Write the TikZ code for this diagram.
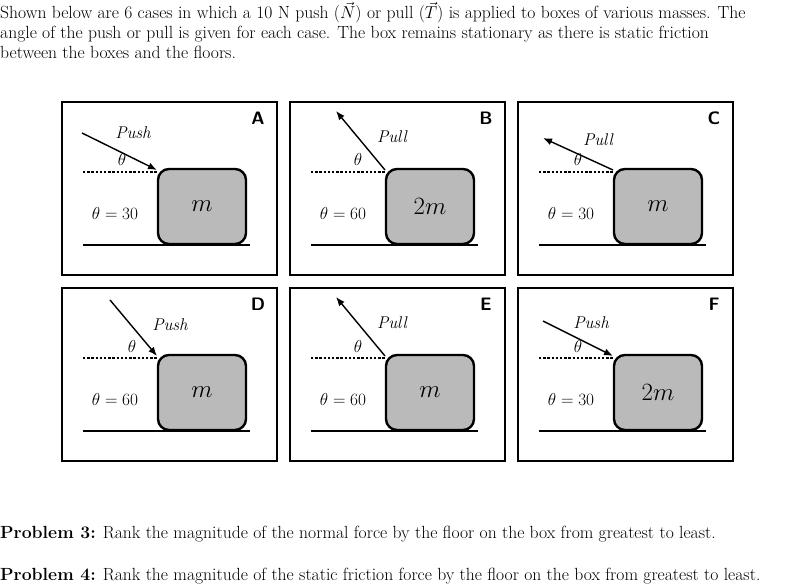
\documentclass[tikz,border=0pt]{standalone}
\usepackage{amsmath}
\usetikzlibrary{arrows.meta}
\begin{document}
\newcommand\casepanel[9]{% #1 x, #2 y, #3 letter, #4 unused, #5 #6 free end, #7 push(1)/pull(0), #8 angle, #9 mass
\begin{scope}[shift={(#1,#2)}]
\draw[frame] (0,0) rectangle (215,173);
\node[letter] (L#3) at (196,16) {#3};
\node[box] (B#3) at (140,104.5) {$#9$};
\coordinate (C#3) at (95,68);
\coordinate (S#3) at (#5,#6);
\draw[floor] (21,143) -- (188,143);
\draw[dots] (21,70) -- (95,70);
\ifnum#7=1 \draw[force] (S#3) -- (C#3);\else \draw[force] (C#3) -- (S#3);\fi
\node[lab] (T#3) at (53,111) {$\theta = #8$};
\end{scope}}
\begin{tikzpicture}[x=1pt,y=-1pt,
 frame/.style={line width=2.6pt},
 letter/.style={font=\sffamily\bfseries\fontsize{18}{18}\selectfont},
 box/.style={draw,line width=2.4pt,fill=black!27,rounded corners=11pt,minimum width=88pt,minimum height=75pt,inner sep=0pt,font=\fontsize{28}{28}\selectfont},
 floor/.style={line width=2.4pt},
 dots/.style={line width=2.6pt,dash pattern=on 2.4pt off 1.8pt},
 force/.style={line width=1.4pt,-{Latex[length=9pt,width=7pt]}},
 lab/.style={font=\fontsize{18}{18}\selectfont},
 it/.style={font=\fontsize{17}{17}\selectfont\itshape},
 txt/.style={anchor=west,inner sep=0pt,font=\fontsize{17.6}{20}\selectfont}]
\useasboundingbox (0,0) rectangle (806,586);
\node[txt,anchor=north west,align=left] (intro) at (0,2) {Shown below are 6 cases in which a 10 N push ($\vec N$) or pull ($\vec T$) is applied to boxes of various masses. The\\angle of the push or pull is given for each case. The box remains stationary as there is static friction\\between the boxes and the floors.};
\casepanel{62}{102}{A}{}{20}{31}{1}{30}{m}
\casepanel{290}{102}{B}{}{46}{9}{0}{60}{2m}
\casepanel{518}{102}{C}{}{25}{36}{0}{30}{m}
\casepanel{62}{288}{D}{}{48}{12}{1}{60}{m}
\casepanel{290}{288}{E}{}{46}{9}{0}{60}{m}
\casepanel{518}{288}{F}{}{25}{33}{1}{30}{2m}
\node[it] (pA) at (133,133) {Push}; \node[lab] (qA) at (122,159) {$\theta$};
\node[it] (pB) at (392,137) {Pull}; \node[lab] (qB) at (358,159) {$\theta$};
\node[it] (pC) at (598,140) {Pull}; \node[lab] (qC) at (578,159) {$\theta$};
\node[it] (pD) at (170,325) {Push}; \node[lab] (qD) at (132,346) {$\theta$};
\node[it] (pE) at (392,323) {Pull}; \node[lab] (qE) at (358,346) {$\theta$};
\node[it] (pF) at (591,323) {Push}; \node[lab] (qF) at (578,346) {$\theta$};
\node[txt] (p3) at (0,534) {\textbf{Problem 3:} Rank the magnitude of the normal force by the floor on the box from greatest to least.};
\node[txt] (p4) at (0,576) {\textbf{Problem 4:} Rank the magnitude of the static friction force by the floor on the box from greatest to least.};
\end{tikzpicture}
\end{document}
